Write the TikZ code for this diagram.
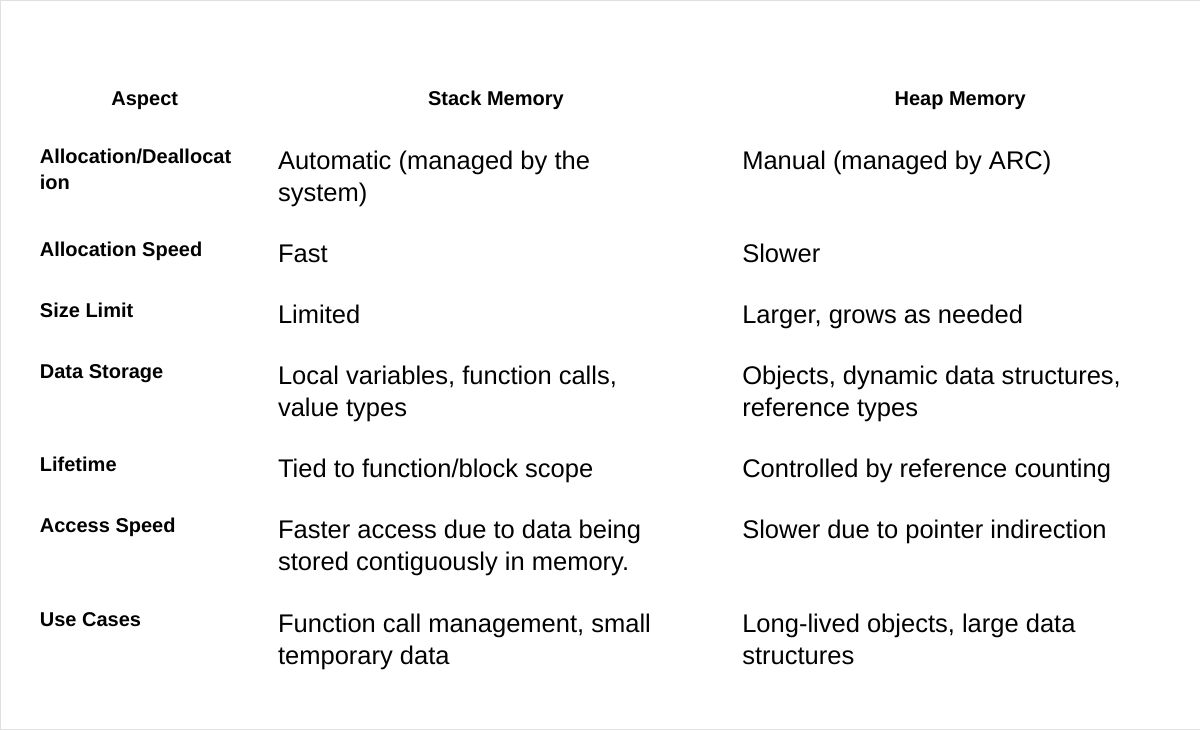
\documentclass[tikz,border=0pt]{standalone}
\usepackage{fontspec}
\setmainfont{Liberation Sans}
\begin{document}
\begin{tikzpicture}[x=1pt,y=-1pt,
 hd/.style={anchor=base,font=\fontsize{20}{24}\selectfont\bfseries,inner sep=0},
 lb/.style={anchor=base west,font=\fontsize{20}{24}\selectfont\bfseries,inner sep=0},
 tx/.style={anchor=base west,font=\fontsize{25.5}{32}\selectfont,inner sep=0}]
\draw[fill=white,draw=black!12] (0.5,0.5) rectangle (1199.5,729.5);
\node[hd] (h1) at (145,106) {Aspect};
\node[hd] (h2) at (496,106) {Stack Memory};
\node[hd] (h3) at (960,106) {Heap Memory};
\node[lb] (a1) at (40,164) {Allocation/Deallocat};
\node[lb] (a1b) at (40,190) {ion};
\node[tx] (s1) at (278,170) {Automatic (managed by the};
\node[tx] (s1b) at (278,202) {system)};
\node[tx] (p1) at (742,170) {Manual (managed by ARC)};
\node[lb] (a2) at (40,257) {Allocation Speed};
\node[tx] (s2) at (278,263) {Fast};
\node[tx] (p2) at (742,263) {Slower};
\node[lb] (a3) at (40,318) {Size Limit};
\node[tx] (s3) at (278,324) {Limited};
\node[tx] (p3) at (742,324) {Larger, grows as needed};
\node[lb] (a4) at (40,379) {Data Storage};
\node[tx] (s4) at (278,385) {Local variables, function calls,};
\node[tx] (s4b) at (278,417) {value types};
\node[tx] (p4) at (742,385) {Objects, dynamic data structures,};
\node[tx] (p4b) at (742,417) {reference types};
\node[lb] (a5) at (40,472) {Lifetime};
\node[tx] (s5) at (278,478) {Tied to function/block scope};
\node[tx] (p5) at (742,478) {Controlled by reference counting};
\node[lb] (a6) at (40,533) {Access Speed};
\node[tx] (s6) at (278,539) {Faster access due to data being};
\node[tx] (s6b) at (278,571) {stored contiguously in memory.};
\node[tx] (p6) at (742,539) {Slower due to pointer indirection};
\node[lb] (a7) at (40,626) {Use Cases};
\node[tx] (s7) at (278,632) {Function call management, small};
\node[tx] (s7b) at (278,664) {temporary data};
\node[tx] (p7) at (742,632) {Long-lived objects, large data};
\node[tx] (p7b) at (742,664) {structures};
\end{tikzpicture}
\end{document}
